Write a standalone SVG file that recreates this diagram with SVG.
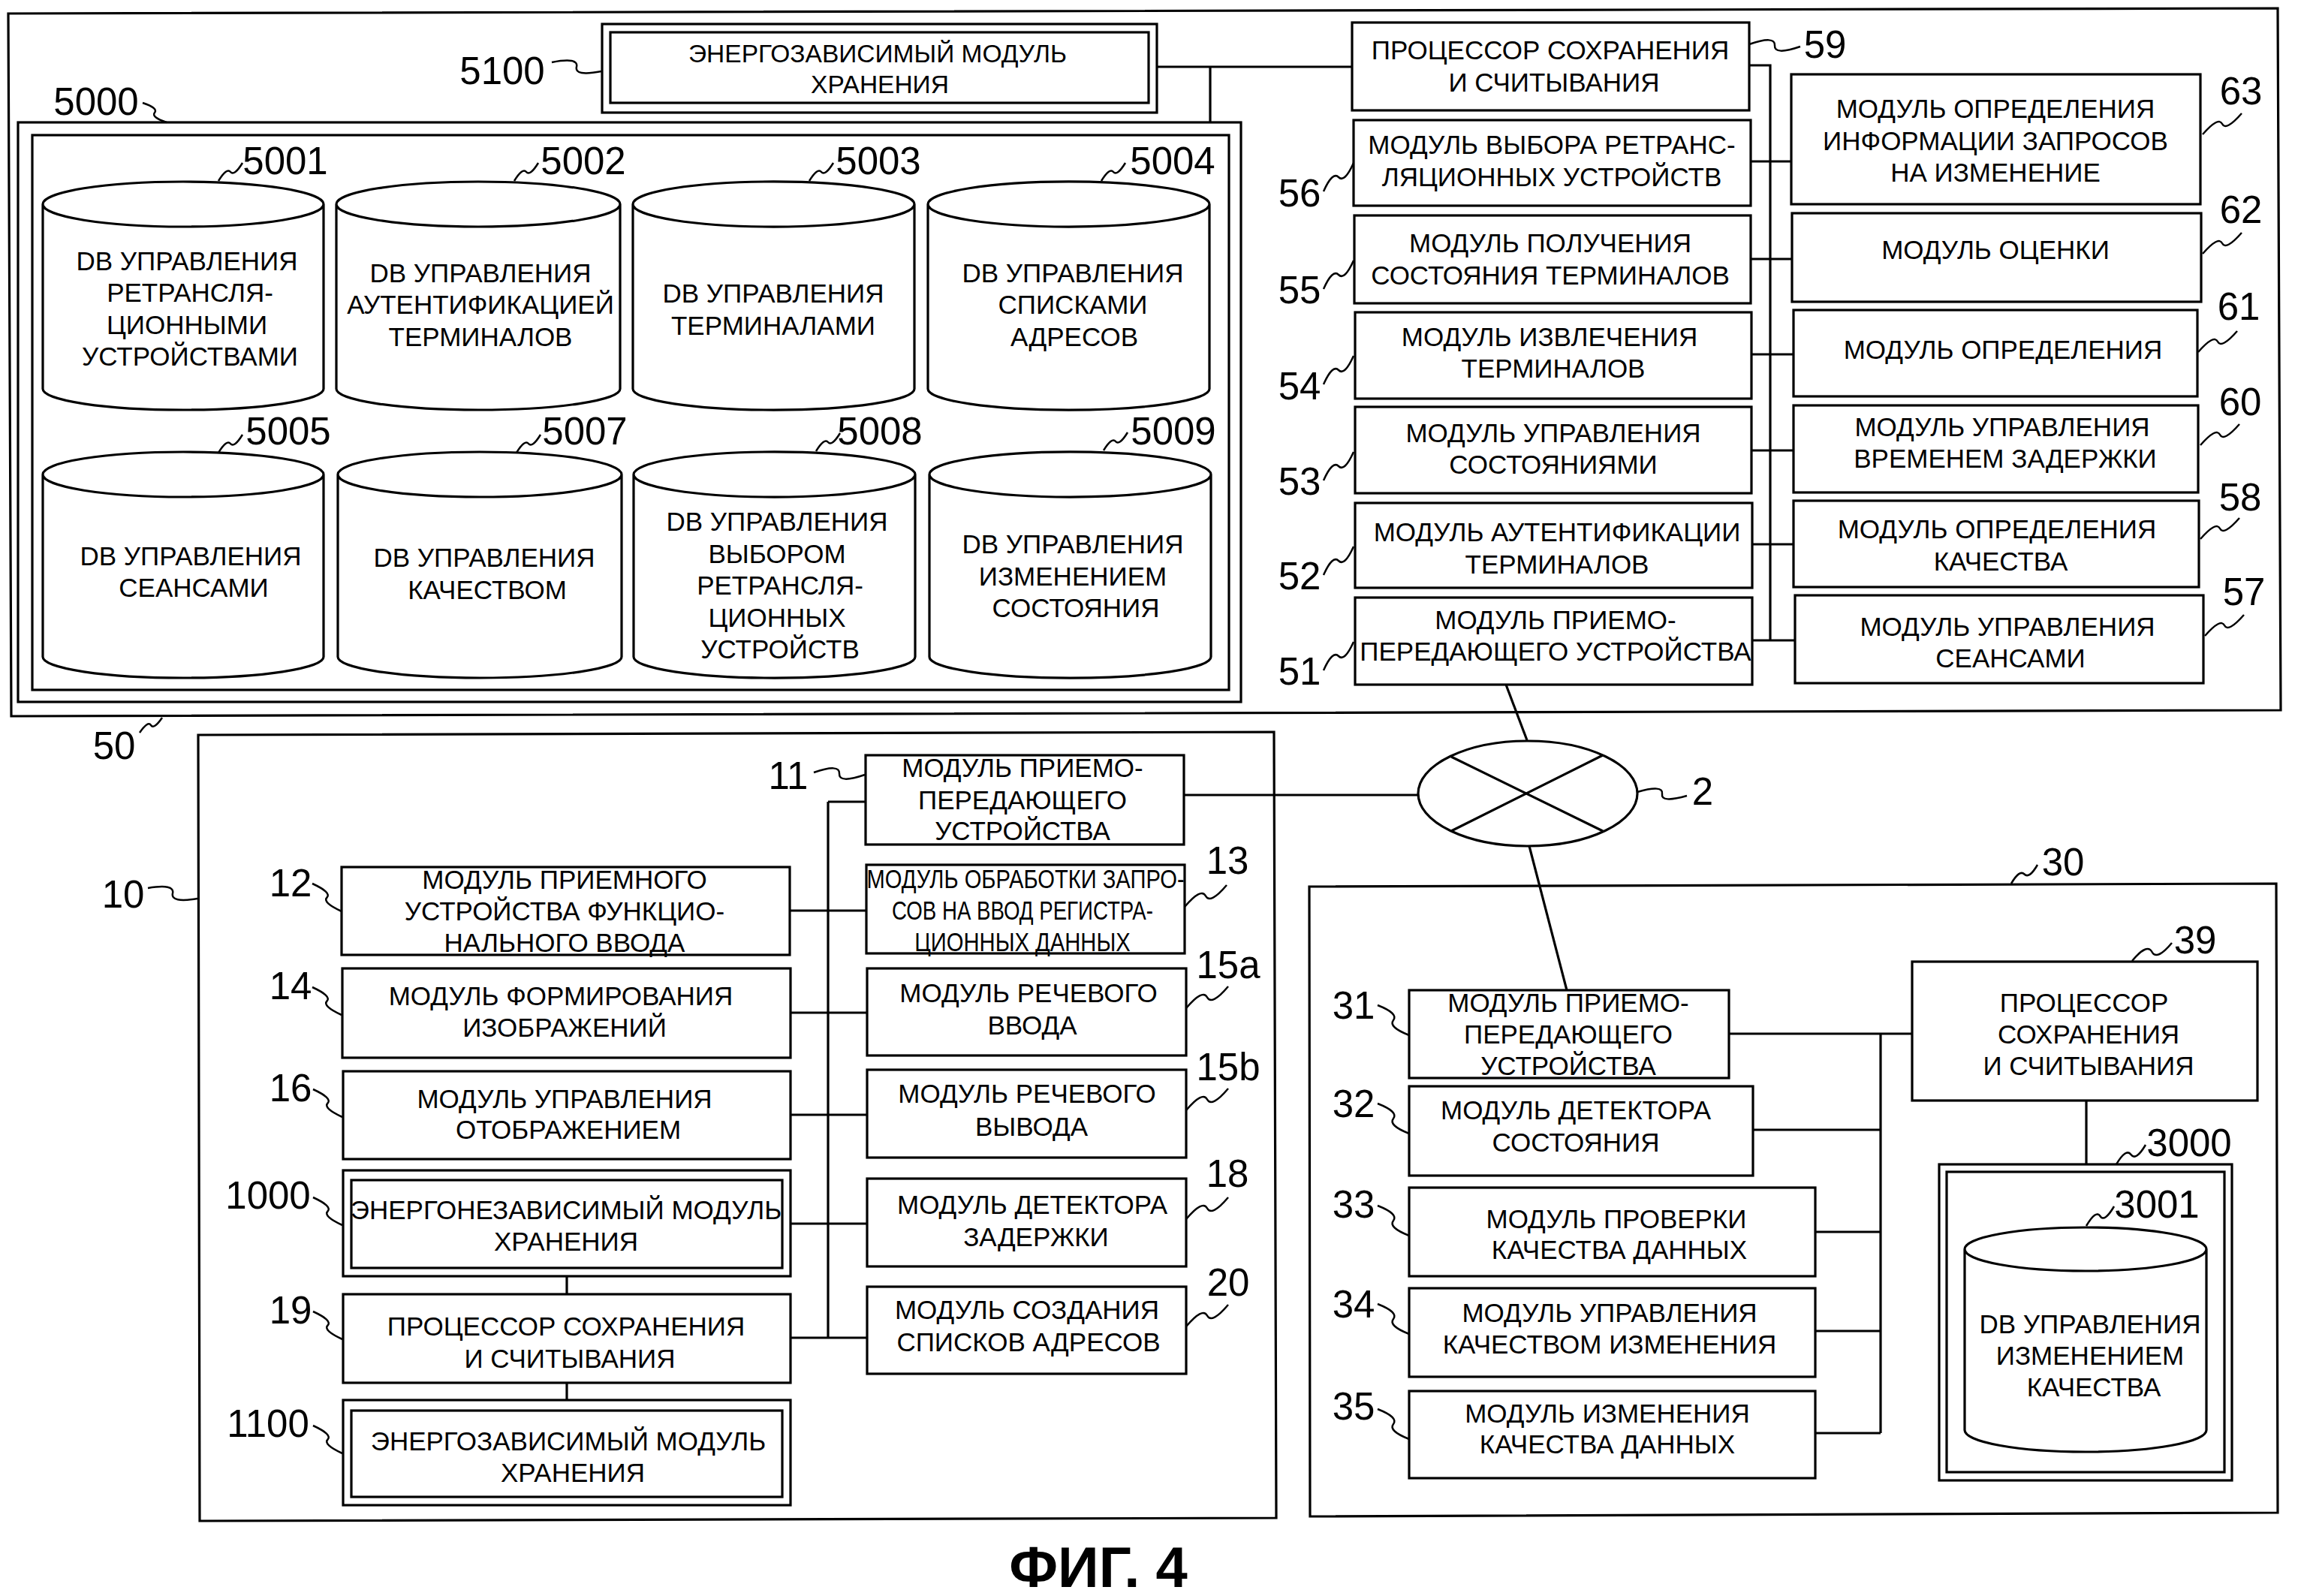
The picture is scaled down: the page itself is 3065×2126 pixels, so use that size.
<svg xmlns="http://www.w3.org/2000/svg" width="3065" height="2126" viewBox="0 0 3065 2126">
<style>
rect,ellipse,polygon,.s{fill:none;stroke:#000;stroke-width:3.2}
.c line,.c path{fill:none;stroke:#000;stroke-width:3.2}
.q{fill:none;stroke:#000;stroke-width:2.5}
text{font-family:"Liberation Sans",Arial,sans-serif;fill:#000;text-anchor:middle}
.t{font-size:35px}
.t5{font-size:33.500px}
.l{font-size:51px}
.f{font-size:76px;font-weight:bold}
</style>
<rect x="0" y="0" width="3065" height="2126" style="fill:#fff;stroke:none"/>
<g id="node-50"><polygon points="11,18 3034,11 3038,946 15,954"/><text class="l" x="152" y="1011">50</text></g>
<g id="node-10"><polygon points="264,979 1697,975 1700,2022 266,2026"/><text class="l" x="164" y="1209">10</text></g>
<g id="node-30"><polygon points="1744,1181 3032,1177 3034,2015 1745,2020"/><text class="l" x="2748" y="1166">30</text></g>
<g id="connectors" class="c">
<path d="M1541 89H1801M1612 89V163"/>
<path d="M2330 87H2358V853M2332 215H2386M2332 345H2387M2333 472H2389M2333 600H2389M2334 725H2389M2334 853H2391"/>
<path d="M2006 912L2034 986"/>
<path d="M1577 1059H1889"/>
<path d="M1103 1068V1782M1103 1068H1153M1052 1213H1154M1053 1349H1155M1053 1485H1155M1053 1630H1155M1053 1782H1155"/>
<path d="M755 1700V1724M755 1842V1865"/>
<path d="M2037 1127L2087 1319"/>
<path d="M2303 1377H2547M2505 1377V1909M2335 1505H2505M2418 1641H2505M2418 1773H2505M2418 1909H2505"/>
<path d="M2779 1466V1551"/>
</g>
<g id="leaders">
<path class="q" d="M735 83q36 -7 33 6t33 6"/>
<path class="q" d="M190 137q21 7 16 13t16 13"/>
<path class="q" d="M186 976q11 -16 15 -10t15 -10"/>
<path class="q" d="M291 241q11 -18 16 -12t16 -12"/>
<path class="q" d="M685 241q11 -18 16 -12t16 -12"/>
<path class="q" d="M1078 241q11 -18 16 -12t16 -12"/>
<path class="q" d="M1467 241q11 -18 16 -12t16 -12"/>
<path class="q" d="M291 603q11 -18 16 -12t16 -12"/>
<path class="q" d="M688 603q11 -18 16 -12t16 -12"/>
<path class="q" d="M1087 601q11 -18 16 -12t16 -12"/>
<path class="q" d="M1470 600q11 -18 16 -12t16 -12"/>
<path class="q" d="M2330 59q35 -12 34 1.5t34 1.5"/>
<path class="q" d="M1763 255q12 -27 20 -19t20 -19"/>
<path class="q" d="M1763 385q12 -27 20 -19t20 -19"/>
<path class="q" d="M1763 512q12 -27 20 -19t20 -19"/>
<path class="q" d="M1763 640q12 -27 20 -19t20 -19"/>
<path class="q" d="M1763 766q12 -27 20 -19t20 -19"/>
<path class="q" d="M1763 893q12 -27 20 -19t20 -19"/>
<path class="q" d="M2934 179q21 -24 26 -14t26 -14"/>
<path class="q" d="M2934 338q21 -24 26 -14t26 -14"/>
<path class="q" d="M2928 469q21 -24 26 -14t26 -14"/>
<path class="q" d="M2931 593q21 -24 26 -14t26 -14"/>
<path class="q" d="M2931 718q21 -24 26 -14t26 -14"/>
<path class="q" d="M2937 847q21 -24 26 -14t26 -14"/>
<path class="q" d="M197 1183q36 -6 33 7t33 7"/>
<path class="q" d="M1084 1029q35 -12 34 1.5t34 1.5"/>
<path class="q" d="M416 1177q26 12 19.500 18.500t19.500 18.500"/>
<path class="q" d="M416 1315q26 12 19.500 18.500t19.500 18.500"/>
<path class="q" d="M417 1451q26 12 19.500 18.500t19.500 18.500"/>
<path class="q" d="M417 1595q26 12 19.500 18.500t19.500 18.500"/>
<path class="q" d="M417 1747q26 12 19.500 18.500t19.500 18.500"/>
<path class="q" d="M417 1899q26 12 19.500 18.500t19.500 18.500"/>
<path class="q" d="M1578 1208q22 -26 28 -14.500t28 -14.500"/>
<path class="q" d="M1580 1343q22 -26 28 -14.500t28 -14.500"/>
<path class="q" d="M1580 1479q22 -26 28 -14.500t28 -14.500"/>
<path class="q" d="M1580 1624q22 -26 28 -14.500t28 -14.500"/>
<path class="q" d="M1580 1767q22 -26 28 -14.500t28 -14.500"/>
<path class="q" d="M2181 1055q35 -10 33 2.500t33 2.500"/>
<path class="q" d="M2679 1177q11 -19 17.500 -12.500t17.500 -12.500"/>
<path class="q" d="M1835 1339q28 11 21 20t21 20"/>
<path class="q" d="M1835 1470q28 11 21 20t21 20"/>
<path class="q" d="M1835 1606q28 11 21 20t21 20"/>
<path class="q" d="M1835 1737q28 11 21 20t21 20"/>
<path class="q" d="M1835 1877q28 11 21 20t21 20"/>
<path class="q" d="M2840 1280q20 -24 26.500 -12t26.500 -12"/>
<path class="q" d="M2819 1551q13 -22 19.500 -13t19.500 -13"/>
<path class="q" d="M2779 1633q13 -22 18.500 -13t18.500 -13"/>
</g>
<g id="node-5100"><rect x="802" y="32" width="739" height="118"/><rect x="813" y="43" width="717" height="94"/><text class="t5" x="1169" y="83">ЭНЕРГОЗАВИСИМЫЙ МОДУЛЬ</text><text class="t5" x="1172" y="124">ХРАНЕНИЯ</text><text class="l" x="669" y="112">5100</text></g>
<g id="node-5000"><rect x="24" y="163" width="1629" height="772"/><rect x="43" y="180" width="1594" height="739"/><text class="l" x="128" y="153">5000</text></g>
<g id="node-5001"><path class="s" d="M57 272A187 30 0 0 1 431 272A187 30 0 0 1 57 272V518A187 28 0 0 0 431 518V272"/><text class="t" x="249" y="360">DB УПРАВЛЕНИЯ</text><text class="t" x="253" y="402">РЕТРАНСЛЯ-</text><text class="t" x="249" y="445">ЦИОННЫМИ</text><text class="t" x="253" y="487">УСТРОЙСТВАМИ</text><text class="l" x="380" y="232">5001</text></g>
<g id="node-5002"><path class="s" d="M448 272A189 30 0 0 1 826 272A189 30 0 0 1 448 272V518A189 28 0 0 0 826 518V272"/><text class="t" x="640" y="376">DB УПРАВЛЕНИЯ</text><text class="t" x="640" y="418">АУТЕНТИФИКАЦИЕЙ</text><text class="t" x="640" y="461">ТЕРМИНАЛОВ</text><text class="l" x="777" y="232">5002</text></g>
<g id="node-5003"><path class="s" d="M843 272A187 30 0 0 1 1218 272A187 30 0 0 1 843 272V518A187 28 0 0 0 1218 518V272"/><text class="t" x="1030" y="403">DB УПРАВЛЕНИЯ</text><text class="t" x="1030" y="446">ТЕРМИНАЛАМИ</text><text class="l" x="1170" y="232">5003</text></g>
<g id="node-5004"><path class="s" d="M1236 272A187 30 0 0 1 1611 272A187 30 0 0 1 1236 272V518A187 28 0 0 0 1611 518V272"/><text class="t" x="1429" y="376">DB УПРАВЛЕНИЯ</text><text class="t" x="1429" y="418">СПИСКАМИ</text><text class="t" x="1431" y="461">АДРЕСОВ</text><text class="l" x="1562" y="232">5004</text></g>
<g id="node-5005"><path class="s" d="M57 632A187 30 0 0 1 431 632A187 30 0 0 1 57 632V875A187 28 0 0 0 431 875V632"/><text class="t" x="254" y="753">DB УПРАВЛЕНИЯ</text><text class="t" x="258" y="795">СЕАНСАМИ</text><text class="l" x="384" y="592">5005</text></g>
<g id="node-5007"><path class="s" d="M450 632A189 30 0 0 1 828 632A189 30 0 0 1 450 632V875A189 28 0 0 0 828 875V632"/><text class="t" x="645" y="755">DB УПРАВЛЕНИЯ</text><text class="t" x="649" y="798">КАЧЕСТВОМ</text><text class="l" x="779" y="592">5007</text></g>
<g id="node-5008"><path class="s" d="M844 632A187 30 0 0 1 1219 632A187 30 0 0 1 844 632V875A187 28 0 0 0 1219 875V632"/><text class="t" x="1035" y="707">DB УПРАВЛЕНИЯ</text><text class="t" x="1035" y="750">ВЫБОРОМ</text><text class="t" x="1039" y="792">РЕТРАНСЛЯ-</text><text class="t" x="1035" y="835">ЦИОННЫХ</text><text class="t" x="1039" y="877">УСТРОЙСТВ</text><text class="l" x="1172" y="592">5008</text></g>
<g id="node-5009"><path class="s" d="M1238 632A187 30 0 0 1 1613 632A187 30 0 0 1 1238 632V875A187 28 0 0 0 1613 875V632"/><text class="t" x="1429" y="737">DB УПРАВЛЕНИЯ</text><text class="t" x="1429" y="780">ИЗМЕНЕНИЕМ</text><text class="t" x="1433" y="822">СОСТОЯНИЯ</text><text class="l" x="1563" y="592">5009</text></g>
<g id="node-59"><rect x="1801" y="30" width="529" height="117"/><text class="t" x="2065" y="79">ПРОЦЕССОР СОХРАНЕНИЯ</text><text class="t" x="2070" y="122">И СЧИТЫВАНИЯ</text><text class="l" x="2431" y="77">59</text></g>
<g id="node-56"><rect x="1803" y="160" width="529" height="114"/><text class="t" x="2067" y="205">МОДУЛЬ ВЫБОРА РЕТРАНС-</text><text class="t" x="2067" y="248">ЛЯЦИОННЫХ УСТРОЙСТВ</text><text class="l" x="1731" y="275">56</text></g>
<g id="node-55"><rect x="1804" y="287" width="528" height="117"/><text class="t" x="2065" y="336">МОДУЛЬ ПОЛУЧЕНИЯ</text><text class="t" x="2065" y="379">СОСТОЯНИЯ ТЕРМИНАЛОВ</text><text class="l" x="1731" y="404">55</text></g>
<g id="node-54"><rect x="1805" y="416" width="528" height="115"/><text class="t" x="2064" y="461">МОДУЛЬ ИЗВЛЕЧЕНИЯ</text><text class="t" x="2069" y="503">ТЕРМИНАЛОВ</text><text class="l" x="1731" y="532">54</text></g>
<g id="node-53"><rect x="1805" y="542" width="528" height="115"/><text class="t" x="2069" y="589">МОДУЛЬ УПРАВЛЕНИЯ</text><text class="t" x="2069" y="631">СОСТОЯНИЯМИ</text><text class="l" x="1731" y="659">53</text></g>
<g id="node-52"><rect x="1805" y="670" width="529" height="113"/><text class="t" x="2074" y="721">МОДУЛЬ АУТЕНТИФИКАЦИИ</text><text class="t" x="2074" y="764">ТЕРМИНАЛОВ</text><text class="l" x="1731" y="785">52</text></g>
<g id="node-51"><rect x="1805" y="796" width="529" height="116"/><text class="t" x="2072" y="838">МОДУЛЬ ПРИЕМО-</text><text class="t" x="2072" y="880">ПЕРЕДАЮЩЕГО УСТРОЙСТВА</text><text class="l" x="1731" y="912">51</text></g>
<g id="node-63"><rect x="2386" y="99" width="545" height="173"/><text class="t" x="2658" y="157">МОДУЛЬ ОПРЕДЕЛЕНИЯ</text><text class="t" x="2658" y="200">ИНФОРМАЦИИ ЗАПРОСОВ</text><text class="t" x="2658" y="242">НА ИЗМЕНЕНИЕ</text><text class="l" x="2985" y="139">63</text></g>
<g id="node-62"><rect x="2387" y="284" width="545" height="118"/><text class="t" x="2658" y="345">МОДУЛЬ ОЦЕНКИ</text><text class="l" x="2985" y="297">62</text></g>
<g id="node-61"><rect x="2389" y="413" width="538" height="115"/><text class="t" x="2668" y="478">МОДУЛЬ ОПРЕДЕЛЕНИЯ</text><text class="l" x="2982" y="426">61</text></g>
<g id="node-60"><rect x="2389" y="540" width="539" height="116"/><text class="t" x="2667" y="581">МОДУЛЬ УПРАВЛЕНИЯ</text><text class="t" x="2671" y="623">ВРЕМЕНЕМ ЗАДЕРЖКИ</text><text class="l" x="2984" y="553">60</text></g>
<g id="node-58"><rect x="2389" y="667" width="540" height="115"/><text class="t" x="2660" y="717">МОДУЛЬ ОПРЕДЕЛЕНИЯ</text><text class="t" x="2665" y="760">КАЧЕСТВА</text><text class="l" x="2984" y="680">58</text></g>
<g id="node-57"><rect x="2391" y="793" width="544" height="117"/><text class="t" x="2674" y="847">МОДУЛЬ УПРАВЛЕНИЯ</text><text class="t" x="2678" y="889">СЕАНСАМИ</text><text class="l" x="2989" y="806">57</text></g>
<g id="node-2"><ellipse cx="2035" cy="1057" rx="146" ry="70"/><path class="s" d="M1933 1008L2135 1107M1933 1107L2135 1006"/><text class="l" x="2268" y="1072">2</text></g>
<g id="node-11"><rect x="1153" y="1006" width="424" height="119"/><text class="t" x="1362" y="1035">МОДУЛЬ ПРИЕМО-</text><text class="t" x="1362" y="1078">ПЕРЕДАЮЩЕГО</text><text class="t" x="1362" y="1119">УСТРОЙСТВА</text><text class="l" x="1050" y="1051">11</text></g>
<g id="node-12"><rect x="455" y="1155" width="597" height="117"/><text class="t" x="752" y="1184">МОДУЛЬ ПРИЕМНОГО</text><text class="t" x="752" y="1226">УСТРОЙСТВА ФУНКЦИО-</text><text class="t" x="752" y="1268">НАЛЬНОГО ВВОДА</text><text class="l" x="387" y="1194">12</text></g>
<g id="node-13"><rect x="1154" y="1152" width="424" height="118"/><text class="t" transform="translate(1366 1183) scale(.833 1)">МОДУЛЬ ОБРАБОТКИ ЗАПРО-</text><text class="t" transform="translate(1362 1225) scale(.79 1)">СОВ НА ВВОД РЕГИСТРА-</text><text class="t" transform="translate(1362 1267) scale(.834 1)">ЦИОННЫХ ДАННЫХ</text><text class="l" x="1635" y="1164">13</text></g>
<g id="node-14"><rect x="456" y="1290" width="597" height="119"/><text class="t" x="747" y="1339">МОДУЛЬ ФОРМИРОВАНИЯ</text><text class="t" x="752" y="1381">ИЗОБРАЖЕНИЙ</text><text class="l" x="387" y="1331">14</text></g>
<g id="node-15a"><rect x="1155" y="1290" width="425" height="116"/><text class="t" x="1370" y="1335">МОДУЛЬ РЕЧЕВОГО</text><text class="t" x="1375" y="1378">ВВОДА</text><text class="l" x="1636" y="1303">15a</text></g>
<g id="node-16"><rect x="457" y="1427" width="596" height="117"/><text class="t" x="752" y="1476">МОДУЛЬ УПРАВЛЕНИЯ</text><text class="t" x="757" y="1517">ОТОБРАЖЕНИЕМ</text><text class="l" x="387" y="1467">16</text></g>
<g id="node-15b"><rect x="1155" y="1425" width="425" height="117"/><text class="t" x="1368" y="1469">МОДУЛЬ РЕЧЕВОГО</text><text class="t" x="1374" y="1513">ВЫВОДА</text><text class="l" x="1636" y="1439">15b</text></g>
<g id="node-1000"><rect x="457" y="1559" width="596" height="141"/><rect x="468" y="1572" width="574" height="117"/><text class="t" x="754" y="1624">ЭНЕРГОНЕЗАВИСИМЫЙ МОДУЛЬ</text><text class="t" x="754" y="1666">ХРАНЕНИЯ</text><text class="l" x="357" y="1610">1000</text></g>
<g id="node-18"><rect x="1155" y="1570" width="425" height="117"/><text class="t" x="1375" y="1617">МОДУЛЬ ДЕТЕКТОРА</text><text class="t" x="1380" y="1660">ЗАДЕРЖКИ</text><text class="l" x="1635" y="1581">18</text></g>
<g id="node-19"><rect x="457" y="1724" width="596" height="118"/><text class="t" x="754" y="1779">ПРОЦЕССОР СОХРАНЕНИЯ</text><text class="t" x="759" y="1822">И СЧИТЫВАНИЯ</text><text class="l" x="387" y="1763">19</text></g>
<g id="node-20"><rect x="1155" y="1714" width="425" height="116"/><text class="t" x="1368" y="1757">МОДУЛЬ СОЗДАНИЯ</text><text class="t" x="1370" y="1800">СПИСКОВ АДРЕСОВ</text><text class="l" x="1636" y="1726">20</text></g>
<g id="node-1100"><rect x="457" y="1865" width="596" height="140"/><rect x="468" y="1879" width="574" height="115"/><text class="t" x="757" y="1932">ЭНЕРГОЗАВИСИМЫЙ МОДУЛЬ</text><text class="t" x="763" y="1974">ХРАНЕНИЯ</text><text class="l" x="357" y="1914">1100</text></g>
<g id="node-31"><rect x="1877" y="1319" width="426" height="117"/><text class="t" x="2089" y="1348">МОДУЛЬ ПРИЕМО-</text><text class="t" x="2089" y="1390">ПЕРЕДАЮЩЕГО</text><text class="t" x="2089" y="1432">УСТРОЙСТВА</text><text class="l" x="1803" y="1357">31</text></g>
<g id="node-32"><rect x="1877" y="1447" width="458" height="119"/><text class="t" x="2099" y="1491">МОДУЛЬ ДЕТЕКТОРА</text><text class="t" x="2099" y="1534">СОСТОЯНИЯ</text><text class="l" x="1803" y="1488">32</text></g>
<g id="node-33"><rect x="1877" y="1582" width="541" height="118"/><text class="t" x="2153" y="1636">МОДУЛЬ ПРОВЕРКИ</text><text class="t" x="2157" y="1677">КАЧЕСТВА ДАННЫХ</text><text class="l" x="1803" y="1622">33</text></g>
<g id="node-34"><rect x="1877" y="1716" width="541" height="118"/><text class="t" x="2144" y="1761">МОДУЛЬ УПРАВЛЕНИЯ</text><text class="t" x="2144" y="1803">КАЧЕСТВОМ ИЗМЕНЕНИЯ</text><text class="l" x="1803" y="1755">34</text></g>
<g id="node-35"><rect x="1877" y="1853" width="541" height="116"/><text class="t" x="2141" y="1895">МОДУЛЬ ИЗМЕНЕНИЯ</text><text class="t" x="2141" y="1936">КАЧЕСТВА ДАННЫХ</text><text class="l" x="1803" y="1891">35</text></g>
<g id="node-39"><rect x="2547" y="1281" width="460" height="185"/><text class="t" x="2776" y="1348">ПРОЦЕССОР</text><text class="t" x="2782" y="1390">СОХРАНЕНИЯ</text><text class="t" x="2782" y="1432">И СЧИТЫВАНИЯ</text><text class="l" x="2924" y="1270">39</text></g>
<g id="node-3000"><rect x="2583" y="1551" width="390" height="421"/><rect x="2593" y="1561" width="370" height="400"/><text class="l" x="2916" y="1540">3000</text></g>
<g id="node-3001"><path class="s" d="M2617 1664A161 29 0 0 1 2939 1664A161 29 0 0 1 2617 1664V1905A161 29 0 0 0 2939 1905V1664"/><text class="t" x="2784" y="1776">DB УПРАВЛЕНИЯ</text><text class="t" x="2784" y="1818">ИЗМЕНЕНИЕМ</text><text class="t" x="2789" y="1860">КАЧЕСТВА</text><text class="l" x="2873" y="1622">3001</text></g>
<text class="f" x="1463" y="2114">ФИГ. 4</text>
</svg>
